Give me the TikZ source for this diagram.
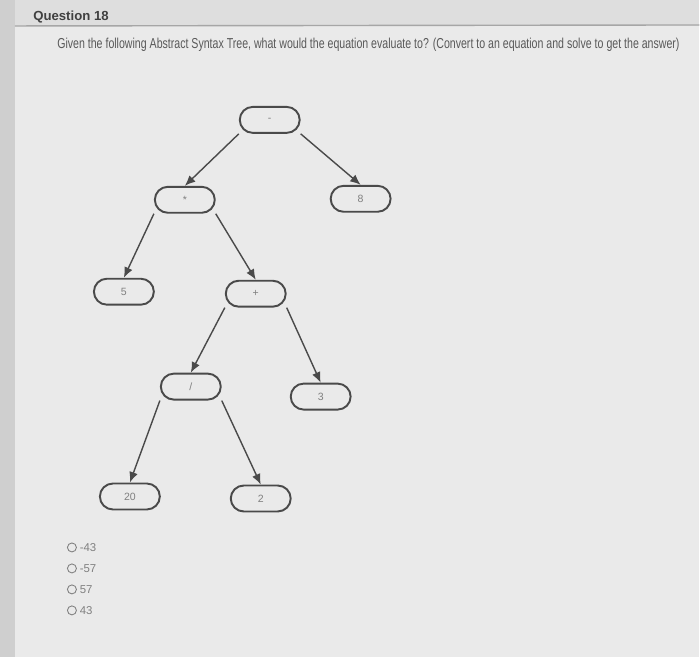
\documentclass[tikz,border=0pt]{standalone}
\usepackage{fontspec}
\setmainfont{Liberation Sans}
\usepackage{graphicx}
\usepackage{tikz}
\usetikzlibrary{calc}
\usetikzlibrary{arrows.meta}

\definecolor{pagebg}{HTML}{EAEAEA}
\definecolor{headbg}{HTML}{DEDEDE}
\definecolor{sidebg}{HTML}{CFCFCF}
\definecolor{astgray}{HTML}{4A4A4A}

\tikzset{
  astnode/.style={draw=astgray,line width=1.1pt,rectangle,rounded corners=0.26cm,
    minimum width=1.2cm,minimum height=0.52cm,inner sep=0pt,
    font=\fontsize{6}{6}\selectfont,text=gray},
  astedge/.style={-{Latex[length=6pt,width=5pt]},draw=astgray,line width=0.8pt},
  choice/.style={draw=gray,circle,minimum size=0.18cm,inner sep=0pt,line width=0.5pt}
}

\begin{document}
\begin{tikzpicture}[x=0.02cm,y=-0.02cm]
    % page
    \fill[pagebg] (0,0) rectangle (700,658);
    \fill[headbg] (15,0) rectangle (700,26);
    \fill[sidebg] (0,0) rectangle (15,658);
    \draw[gray!70,line width=0.8pt] (15,26) -- (700,25);
    \useasboundingbox (0,0) rectangle (700,658);

    \node[anchor=west,inner sep=0pt,font=\bfseries\fontsize{7.5}{8}\selectfont,text=black!75] (title) at (33,17) {Question 18};
    \node[anchor=west,inner sep=0pt,font=\fontsize{8.2}{9}\selectfont,text=black!65] (question) at (57,45)
        {\resizebox{12.46cm}{\height}{Given the following Abstract Syntax Tree, what would the equation evaluate to? (Convert to an equation and solve to get the answer)}};

    % tree
    \node[astnode] (minus)  at (270,120) {-};
    \node[astnode] (times)  at (185,200) {*};
    \node[astnode] (eight)  at (361,199) {8};
    \node[astnode] (five)   at (124,292) {5};
    \node[astnode] (plus)   at (256,294) {+};
    \node[astnode] (divide) at (191,387) {/};
    \node[astnode] (three)  at (321,397) {3};
    \node[astnode] (twenty) at (130,497) {20};
    \node[astnode] (two)    at (261,499) {2};

    \draw[astedge] (minus.south west)  -- (times.north);
    \draw[astedge] (minus.south east)  -- (eight.north);
    \draw[astedge] (times.south west)  -- (five.north);
    \draw[astedge] (times.south east)  -- (plus.north);
    \draw[astedge] (plus.south west)   -- (divide.north);
    \draw[astedge] (plus.south east)   -- (three.north);
    \draw[astedge] (divide.south west) -- (twenty.north);
    \draw[astedge] (divide.south east) -- (two.north);

    % answers
    \foreach \val/\yy [count=\i] in {-43/548,-57/569,57/590,43/611}{
        \node[choice] (c\i) at (72,\yy) {};
        \node[anchor=west,inner sep=1.5pt,font=\fontsize{6.5}{7}\selectfont,text=gray] (a\i) at (c\i.east) {\val};
    }
\end{tikzpicture}
\end{document}
